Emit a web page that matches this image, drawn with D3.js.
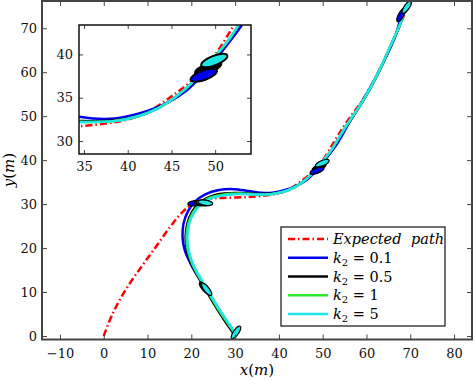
<!DOCTYPE html>
<html><head><meta charset="utf-8">
<script src="https://cdn.jsdelivr.net/npm/d3@7"></script>
<style>body{margin:0;background:#fff} svg{display:block}</style>
</head><body><svg id="c" width="474" height="380"></svg>
<script>
// ---------- data ----------
const xTicks = [-10, 0, 10, 20, 30, 40, 50, 60, 70, 80];
const yTicks = [0, 10, 20, 30, 40, 50, 60, 70];
const insetXTicks = [35, 40, 45, 50];
const insetYTicks = [30, 35, 40];
const seriesKeys = ["exp", "k01", "k05", "k1", "k5"];
const gainLabels = ["0.1", "0.5", "1", "5"];

const expectedPath = [[0,0],[2,5],[5,10.5],[8.5,15.6],[12,20.4],[15.3,25],[18.2,28.4],[21,30.4],[24,31.2],[27,31.4],[32.8,31.6],[37.3,32],[40,32.5],[42.2,33.3],[45.2,35.3],[48.3,37.8],[50.3,40.4],[52.1,43.3],[53.6,45.8],[55.8,49.1],[59.3,54],[62.5,59.6],[65.4,65.8],[67.5,70.5],[69.3,74.5]];
const k01 = [[30,0.5],[28,3.5],[25.9,6.7],[23.4,10.6],[21.5,13.5],[19.8,16.5],[18.5,19.5],[18,22.5],[18.2,25.5],[19.2,28.3],[20.9,30.6],[23.2,32.2],[26.3,33.2],[29.7,33.4],[33,33],[36,32.6],[38.5,32.6],[41.4,33.2],[44.5,34.4],[46.8,35.9],[48.5,37.6],[50.5,40],[53.2,43.6],[56,48.4],[60,55],[64,62.5],[66.5,68],[67.8,72.4]];
const k05 = [[29.7,0.5],[27.6,3.5],[25.6,6.6],[23.3,10.5],[21.5,13.6],[20,16.5],[19,19.5],[18.7,22.5],[19.1,25.6],[20.2,28.3],[22,30.4],[24.3,31.7],[27.5,32.4],[31,32.5],[35,32.3],[38.5,32.4],[41,32.8],[43.5,33.8],[45.5,35.1],[47.5,36.8],[49.5,39.1],[51.7,41.8],[55,47.1],[59.3,53.6],[62.5,59.4],[65.4,65.7],[67.5,70.4],[68.6,73.8]];
const k1 = [[30,0.5],[27.9,3.5],[25.9,6.5],[23.5,10.5],[21.7,13.5],[20.2,16.4],[19.2,19.5],[18.9,22.5],[19.3,25.5],[20.4,28.1],[22.2,30.2],[24.4,31.5],[27.5,32.2],[31,32.4],[35,32.2],[38.5,32.3],[41,32.8],[43.5,33.8],[45.5,35.1],[47.5,36.9],[49.5,39.2],[51.7,41.9],[55,47.2],[59.3,53.7],[62.5,59.5],[65.4,65.8],[67.5,70.5],[68.8,74]];
const k5 = [[30.1,0.5],[28.1,3.5],[26.1,6.5],[23.7,10.5],[21.9,13.5],[20.4,16.3],[19.4,19.5],[19.1,22.5],[19.5,25.5],[20.6,28],[22.3,30],[24.5,31.3],[27.5,32],[31,32.3],[35,32.2],[38.5,32.3],[41,32.8],[43.5,33.8],[45.5,35.1],[47.5,36.9],[49.5,39.2],[51.7,41.9],[55,47.2],[59.3,53.7],[62.5,59.5],[65.4,65.8],[67.5,70.5],[68.9,74.3]];

// robot footprints: [series, x, y, heading(deg)]
const footprints = [
  ["k5", 30.2, 0.8, 55],
  ["k05", 23.0, 10.9, 128],
  ["k5", 23.5, 10.6, 128],
  ["k01", 20.9, 30.2, 5],
  ["k05", 22.4, 30.2, -6],
  ["k1", 22.8, 30.3, -6],
  ["k5", 23.2, 30.3, -8],
  ["k05", 49.2, 38.4, 22],
  ["k01", 48.7, 37.6, 20],
  ["k5", 49.9, 39.3, 22],
  ["k01", 67.9, 73.0, 60],
  ["k5", 69.2, 74.8, 55]
];

// ---------- styles ----------
const colors = {exp: "#ff0000", k01: "#0000f0", k05: "#000000", k1: "#2ee82e", k5: "#1ee6e6"};
const seriesData = {exp: expectedPath, k01: k01, k05: k05, k1: k1, k5: k5};
const serif = "DejaVu Serif";

const svg = d3.select("#c");
const W = 474, H = 380;
svg.append("rect").attr("width", W).attr("height", H).attr("fill", "#fff");

// ---------- main plot ----------
const M = {l: 42, r: 472, t: 1, b: 339.5};
const x = d3.scaleLinear([-14.1, 84.1], [M.l, M.r]);
const y = d3.scaleLinear([-0.8, 76.2], [M.b, M.t]);

const defs = svg.append("defs");
defs.append("clipPath").attr("id", "clipMain").append("rect")
  .attr("x", M.l).attr("y", M.t).attr("width", M.r - M.l).attr("height", M.b - M.t);

function drawSeries(g, sx, sy, lw, rxm, rym, sw) {
  const line = d3.line().x(d => sx(d[0])).y(d => sy(d[1])).curve(d3.curveCatmullRom);
  g.append("path").datum(seriesData.exp).attr("d", line)
    .attr("fill", "none").attr("stroke", colors.exp).attr("stroke-width", lw)
    .attr("stroke-dasharray", "7,3,1.5,3");
  ["k01", "k05", "k1", "k5"].forEach(k => {
    g.append("path").datum(seriesData[k]).attr("d", line)
      .attr("fill", "none").attr("stroke", colors[k]).attr("stroke-width", lw)
      .attr("stroke-linejoin", "round");
  });
  const kx = Math.abs(sx(1) - sx(0)), ky = Math.abs(sy(1) - sy(0));
  g.selectAll("ellipse.fp").data(footprints).join("ellipse")
    .attr("class", "fp")
    .attr("transform", d => `translate(${sx(d[1])},${sy(d[2])}) rotate(${-d[3]})`)
    .attr("rx", rxm * kx).attr("ry", rym * ky)
    .attr("fill", d => colors[d[0]]).attr("stroke", "#000").attr("stroke-width", sw);
}

const gMain = svg.append("g").attr("clip-path", "url(#clipMain)");
drawSeries(gMain, x, y, 2.5, 1.7, 0.6, 1.2);

// axes (ticks inside, box on)
const axCol = "#444";
function styleAxis(g, withLabels) {
  g.attr("font-family", serif);
  g.select(".domain").remove();
  g.selectAll(".tick line").attr("stroke", axCol).attr("stroke-width", 1);
  g.selectAll(".tick text").attr("font-family", serif).attr("font-size", 13).attr("fill", "#111");
  if (!withLabels) g.selectAll(".tick text").remove();
}
svg.append("g").attr("transform", `translate(0,${M.b})`)
  .call(d3.axisBottom(x).tickValues(xTicks).tickSize(-5).tickPadding(9))
  .call(g => styleAxis(g, true));
svg.append("g").attr("transform", `translate(0,${M.t})`)
  .call(d3.axisTop(x).tickValues(xTicks).tickSize(-5))
  .call(g => styleAxis(g, false));
svg.append("g").attr("transform", `translate(${M.l},0)`)
  .call(d3.axisLeft(y).tickValues(yTicks).tickSize(-5).tickPadding(5))
  .call(g => styleAxis(g, true));
svg.append("g").attr("transform", `translate(${M.r},0)`)
  .call(d3.axisRight(y).tickValues(yTicks).tickSize(-5))
  .call(g => styleAxis(g, false));
svg.append("rect").attr("x", M.l).attr("y", M.t).attr("width", M.r - M.l).attr("height", M.b - M.t)
  .attr("fill", "none").attr("stroke", axCol).attr("stroke-width", 2);

// axis titles
const xt = svg.append("text").attr("x", 257).attr("y", 375).attr("text-anchor", "middle")
  .attr("font-family", serif).attr("font-size", 15);
xt.append("tspan").attr("font-style", "italic").text("x");
xt.append("tspan").text("(");
xt.append("tspan").attr("font-style", "italic").text("m");
xt.append("tspan").text(")");
const yt = svg.append("text").attr("transform", "translate(14,170) rotate(-90)").attr("text-anchor", "middle")
  .attr("font-family", serif).attr("font-size", 15);
yt.append("tspan").attr("font-style", "italic").text("y");
yt.append("tspan").text("(");
yt.append("tspan").attr("font-style", "italic").text("m");
yt.append("tspan").text(")");

// ---------- inset ----------
const I = {l: 79, r: 251, t: 25, b: 154};
const xi = d3.scaleLinear([34.43, 54.1], [I.l, I.r]);
const yi = d3.scaleLinear([28.5, 43.4], [I.b, I.t]);
defs.append("clipPath").attr("id", "clipInset").append("rect")
  .attr("x", I.l).attr("y", I.t).attr("width", I.r - I.l).attr("height", I.b - I.t);
svg.append("rect").attr("x", I.l).attr("y", I.t).attr("width", I.r - I.l).attr("height", I.b - I.t).attr("fill", "#fff");
const gIn = svg.append("g").attr("clip-path", "url(#clipInset)");
drawSeries(gIn, xi, yi, 2.5, 1.6, 0.55, 2);
svg.append("g").attr("transform", `translate(0,${I.b})`)
  .call(d3.axisBottom(xi).tickValues(insetXTicks).tickSize(-4).tickPadding(8))
  .call(g => styleAxis(g, true));
svg.append("g").attr("transform", `translate(0,${I.t})`)
  .call(d3.axisTop(xi).tickValues(insetXTicks).tickSize(-4))
  .call(g => styleAxis(g, false));
svg.append("g").attr("transform", `translate(${I.l},0)`)
  .call(d3.axisLeft(yi).tickValues(insetYTicks).tickSize(-4).tickPadding(6))
  .call(g => styleAxis(g, true));
svg.append("g").attr("transform", `translate(${I.r},0)`)
  .call(d3.axisRight(yi).tickValues(insetYTicks).tickSize(-4))
  .call(g => styleAxis(g, false));
svg.append("rect").attr("x", I.l).attr("y", I.t).attr("width", I.r - I.l).attr("height", I.b - I.t)
  .attr("fill", "none").attr("stroke", "#111").attr("stroke-width", 1.5);

// ---------- legend ----------
const L = {x: 281, y: 227, w: 164, h: 99};
const lg = svg.append("g");
lg.append("rect").attr("x", L.x).attr("y", L.y).attr("width", L.w).attr("height", L.h)
  .attr("fill", "#fff").attr("stroke", "#111").attr("stroke-width", 1.2);
const rowY = d3.scalePoint().domain(seriesKeys).range([239, 314]);
seriesKeys.forEach((k, i) => {
  const yy = rowY(k);
  const ln = lg.append("line").attr("x1", 288).attr("x2", 328).attr("y1", yy).attr("y2", yy)
    .attr("stroke", colors[k]).attr("stroke-width", 2.5);
  if (k === "exp") ln.attr("stroke-dasharray", "7,3,1.5,3");
  const t = lg.append("text").attr("x", 333).attr("y", yy + 5)
    .attr("font-family", serif).attr("font-size", 14.5);
  if (k === "exp") {
    t.attr("font-style", "italic").text("Expected");
    lg.append("text").attr("x", 411).attr("y", yy + 5).attr("font-family", serif)
      .attr("font-size", 14.5).attr("font-style", "italic").text("path");
  } else {
    t.append("tspan").attr("font-style", "italic").text("k");
    t.append("tspan").attr("font-size", 10).attr("dy", 3).text("2");
    t.append("tspan").attr("dy", -3).text(" = " + gainLabels[i - 1]);
  }
});
</script>
</body></html>
